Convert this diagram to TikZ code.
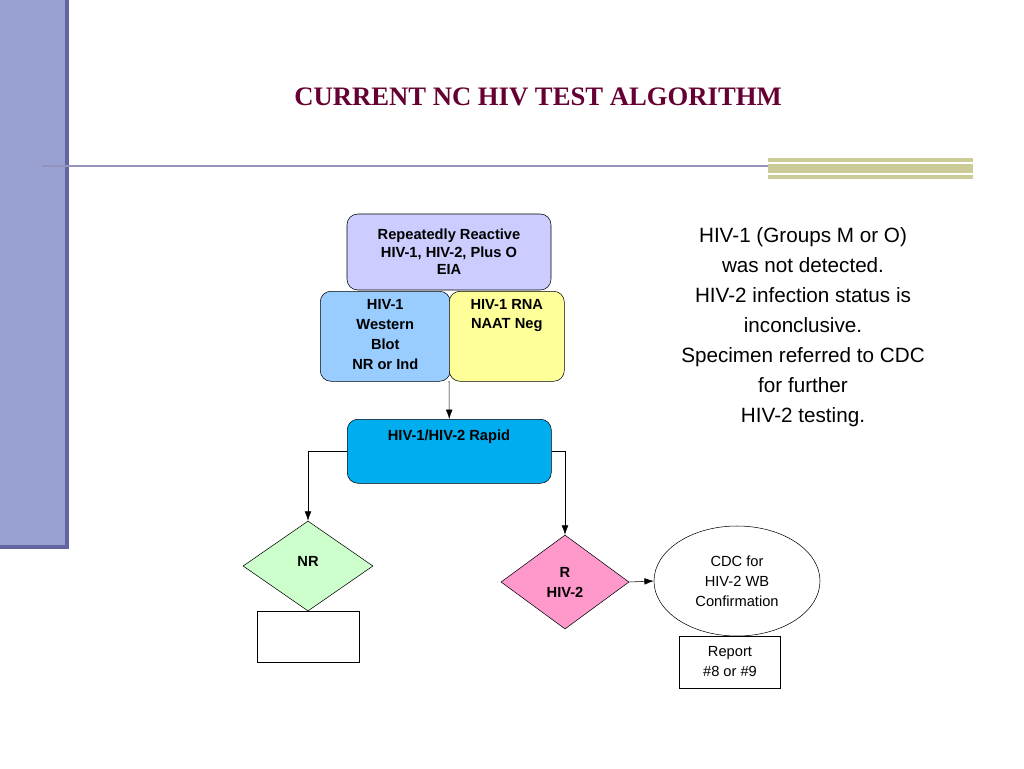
\documentclass[tikz,border=0pt]{standalone}
\usepackage{fontspec}
\setmainfont{Liberation Sans}
\newfontfamily\titlefont{Liberation Serif}
\usetikzlibrary{shapes.geometric,arrows.meta}
\definecolor{side}{RGB}{153,160,210}
\definecolor{sidedk}{RGB}{100,100,160}
\definecolor{olive}{RGB}{204,204,153}
\definecolor{maroon}{RGB}{102,0,51}
\begin{document}
\begin{tikzpicture}[x=0.75pt,y=-0.75pt,
  box/.style={draw,rounded corners=8pt,font=\bfseries\fontsize{11}{13}\selectfont,align=center,inner sep=0pt},
  dia/.style={draw,diamond,aspect=1.45,inner sep=0pt},
  arr/.style={-{Latex[length=7pt,width=5pt]}}]
\useasboundingbox (0,0) rectangle (1024,768);
\fill[white] (0,0) rectangle (1024,768);
\fill[side] (0,0) rectangle (68,548);
\draw[sidedk,line width=2.5pt] (67,0) -- (67,547) -- (0,547);
\draw[sidedk!70,line width=1.2pt] (42,166) -- (973,166);
\fill[olive] (768,158) rectangle (973,179);
\draw[white,line width=1pt] (768,163) -- (973,163) (768,174) -- (973,174);
\node[text=maroon,font=\titlefont\bfseries\fontsize{20}{24}\selectfont] (title) at (538,97) {CURRENT NC HIV TEST ALGORITHM};
% boxes
\node[box,fill={rgb,255:red,204;green,204;blue,255},minimum width=204pt*0.75,minimum height=76pt*0.75] (b1) at (449,252) {Repeatedly Reactive\\HIV-1, HIV-2, Plus O\\EIA};
\node[box,fill={rgb,255:red,153;green,204;blue,255},minimum width=130pt*0.75,minimum height=90pt*0.75,anchor=north west] (b2) at (320,291) {};
\node[font=\bfseries\fontsize{11}{15}\selectfont,align=center,anchor=north] (t2) at (b2.north) [yshift=-3pt] {HIV-1\\Western\\Blot\\NR or Ind};
\node[box,fill={rgb,255:red,255;green,255;blue,153},minimum width=115pt*0.75,minimum height=90pt*0.75,anchor=north west] (b3) at (449,291) {};
\node[font=\bfseries\fontsize{11}{14}\selectfont,align=center,anchor=north] (t3) at (b3.north) [yshift=-3pt] {HIV-1 RNA\\NAAT Neg};
\node[box,fill=cyan,minimum width=204pt*0.75,minimum height=64pt*0.75,anchor=north west] (b4) at (347,419) {};
\node[font=\bfseries\fontsize{11}{13}\selectfont] (t4) at (449,437) {HIV-1/HIV-2 Rapid};
\coordinate (c1) at (449,381);
\draw[arr] (c1) -- (b4.north);
\node[dia,fill={rgb,255:red,204;green,255;blue,204},minimum width=130pt*0.75,minimum height=90pt*0.75] (d1) at (308,566) {};
\node[font=\bfseries\fontsize{11}{13}\selectfont] (td1) at (308,561) {NR};
\node[dia,fill={rgb,255:red,255;green,153;blue,204},minimum width=128pt*0.75,minimum height=94pt*0.75] (d2) at (565,582) {};
\node[font=\bfseries\fontsize{11}{15}\selectfont,align=center] (td2) at (565,582) {R\\HIV-2};
\draw[arr] (b4.west) -| (d1.north);
\draw[arr] (b4.east) -| (d2.north);
\node[draw,minimum width=102pt*0.75,minimum height=51pt*0.75,anchor=north west] (e1) at (257,611) {};
\node[draw,ellipse,minimum width=166pt*0.75,minimum height=110pt*0.75,align=center,font=\fontsize{11}{15}\selectfont] (el) at (737,581) {CDC for\\HIV-2 WB\\Confirmation};
\draw[arr] (d2.east) -- (el.west);
\node[draw,minimum width=101pt*0.75,minimum height=52pt*0.75,align=center,font=\fontsize{11}{15}\selectfont] (rep) at (730,662) {Report\\\#8 or \#9};
\node[align=center,font=\fontsize{15.5}{22.5}\selectfont] (txt) at (803,327) {HIV-1 (Groups M or O)\\was not detected.\\HIV-2 infection status is\\inconclusive.\\Specimen referred to CDC\\for further\\HIV-2 testing.};
\end{tikzpicture}
\end{document}
